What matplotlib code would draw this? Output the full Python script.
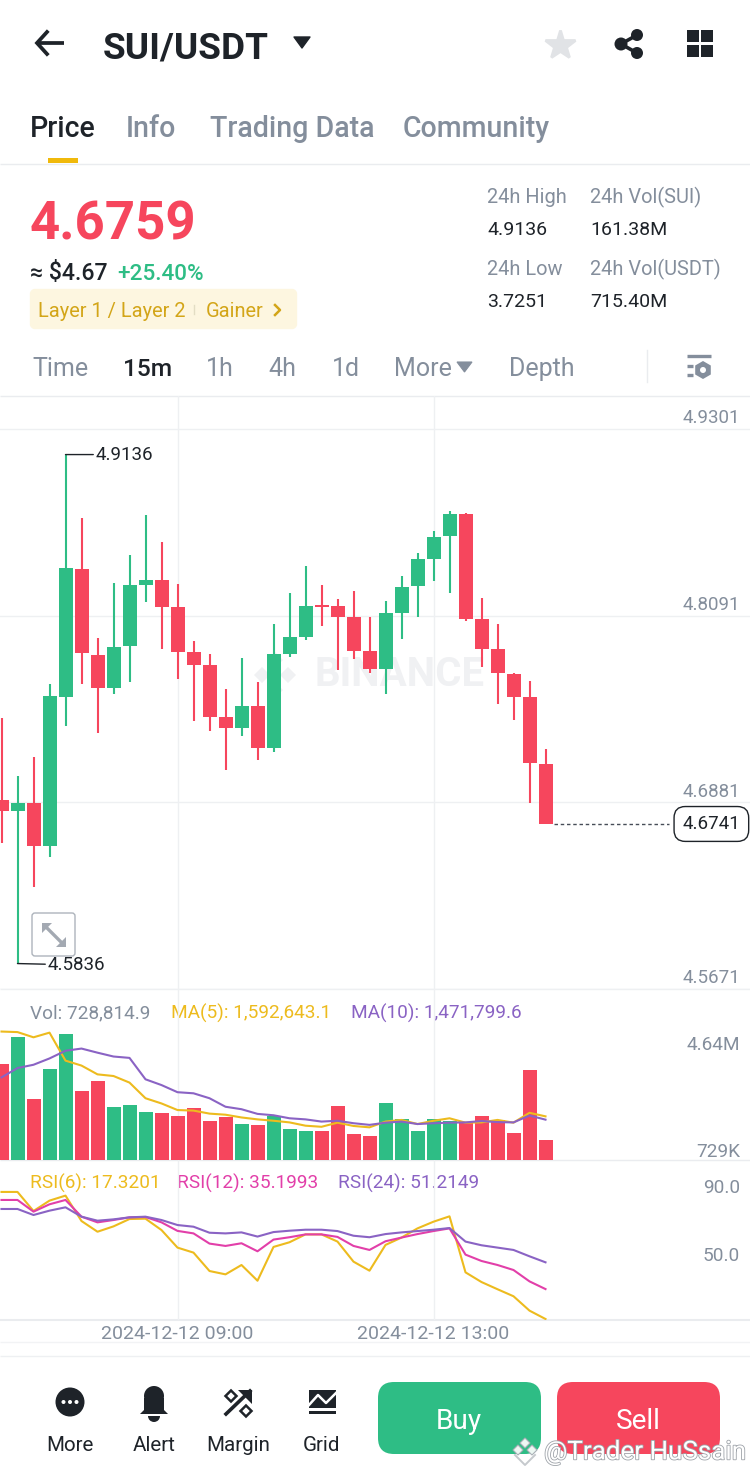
import numpy as np
import matplotlib
matplotlib.use("Agg")
import matplotlib.pyplot as plt
import matplotlib.patheffects as pe
from matplotlib.patches import Circle, FancyBboxPatch, Polygon, Rectangle, RegularPolygon, Wedge

plt.rcParams["font.family"] = ["Roboto", "DejaVu Sans"]

W, H = 750, 1474
GREEN = "#2EBD85"
RED = "#F6465D"
DARK = "#1E2329"
GRAY = "#848E9C"
GRID = "#EEF0F2"
YELLOW = "#EDBB1E"
PINK = "#E23FA9"
PURPLE = "#8A63C4"

# ── candles ──────────────────────────────────────────────────────────────────
opens = [4.6896, 4.6825, 4.6877, 4.6598, 4.7564, 4.8394, 4.7836, 4.7622, 4.7894, 4.8290, 4.8322, 4.8147,
         4.7855, 4.7771, 4.7434, 4.7363, 4.7505, 4.7233, 4.7843, 4.7953, 4.8160, 4.8154, 4.8082, 4.7862,
         4.7745, 4.8108, 4.8283, 4.8458, 4.8607, 4.8750, 4.8069, 4.7875, 4.7713, 4.7564, 4.7129]
closes = [4.6825, 4.6877, 4.6598, 4.7570, 4.8400, 4.7849, 4.7622, 4.7888, 4.8290, 4.8322, 4.8147, 4.7855,
          4.7771, 4.7434, 4.7363, 4.7505, 4.7233, 4.7843, 4.7953, 4.8154, 4.8150, 4.8082, 4.7862, 4.7745,
          4.8108, 4.8277, 4.8458, 4.8601, 4.8750, 4.8069, 4.7875, 4.7719, 4.7564, 4.7136, 4.6741]
highs = [4.7428, 4.7052, 4.7175, 4.7648, 4.9136, 4.8724, 4.7946, 4.8303, 4.8484, 4.8744, 4.8569, 4.8296,
         4.7927, 4.7843, 4.7616, 4.7817, 4.7661, 4.8037, 4.8238, 4.8413, 4.8290, 4.8199, 4.8251, 4.8082,
         4.8186, 4.8348, 4.8497, 4.8640, 4.8769, 4.8756, 4.8206, 4.8037, 4.7719, 4.7667, 4.7227]
lows = [4.6617, 4.5836, 4.6332, 4.6527, 4.7376, 4.7648, 4.7330, 4.7583, 4.7661, 4.8180, 4.7875, 4.7680,
        4.7408, 4.7343, 4.7091, 4.7311, 4.7155, 4.7207, 4.7823, 4.7933, 4.8024, 4.7739, 4.7810, 4.7719,
        4.7583, 4.7940, 4.8082, 4.8316, 4.8238, 4.8056, 4.7758, 4.7518, 4.7415, 4.6877, 4.6741]
price_ticks = [4.9301, 4.8091, 4.6881, 4.5671]
last_price = 4.6741

# ── volume (millions) ────────────────────────────────────────────────────────
volume = [3.50, 4.47, 2.23, 3.32, 4.60, 2.51, 2.88, 1.94, 2.00, 1.76, 1.72, 1.61, 1.91, 1.43, 1.57, 1.30, 1.28, 1.60,
          1.14, 1.05, 1.06, 1.97, 0.95, 0.87, 2.07, 1.48, 1.07, 1.49, 1.43, 1.34, 1.60, 1.46, 0.97, 3.28, 0.729]
vol_ma5 = [4.68, 4.66, 4.47, 4.64, 3.62, 3.44, 3.12, 3.06, 2.82, 2.25, 2.06, 1.82, 1.80, 1.69, 1.65, 1.55, 1.48, 1.43,
           1.37, 1.25, 1.21, 1.36, 1.24, 1.19, 1.40, 1.46, 1.31, 1.43, 1.52, 1.36, 1.37, 1.46, 1.36, 1.72, 1.59]
vol_ma10 = [3.01, 3.35, 3.47, 3.70, 3.98, 4.06, 3.91, 3.77, 3.72, 2.94, 2.73, 2.47, 2.43, 2.25, 1.94, 1.85, 1.68, 1.63,
            1.52, 1.48, 1.40, 1.43, 1.34, 1.28, 1.36, 1.40, 1.31, 1.34, 1.36, 1.37, 1.42, 1.38, 1.37, 1.62, 1.47]

# ── RSI ──────────────────────────────────────────────────────────────────────
rsi6 = [93.3, 93.3, 81.9, 88.1, 91.1, 75.9, 69.5, 72.7, 77.1, 77.3, 70.5, 60.0, 57.0, 46.0, 44.0, 49.6, 40.2, 60.4,
        63.2, 67.9, 67.9, 63.6, 51.6, 46.2, 61.6, 66.0, 71.5, 75.5, 78.7, 45.2, 39.4, 35.1, 30.9, 22.3, 17.3]
rsi12 = [88.5, 88.5, 81.5, 85.9, 88.5, 78.5, 75.1, 76.5, 78.1, 78.3, 75.1, 70.0, 68.5, 62.4, 61.0, 62.6, 57.8, 64.8,
         66.2, 67.9, 67.9, 66.4, 61.0, 58.6, 63.8, 66.0, 68.1, 69.9, 71.5, 55.8, 52.0, 49.6, 46.6, 39.8, 35.2]
rsi24 = [83.1, 83.1, 79.5, 82.1, 84.1, 78.5, 76.1, 76.9, 78.1, 78.5, 76.5, 73.5, 72.5, 68.9, 68.5, 69.1, 66.6, 69.3,
         70.1, 70.7, 70.7, 69.9, 67.1, 66.2, 68.1, 69.1, 69.9, 70.7, 71.7, 63.6, 61.4, 60.0, 58.6, 54.8, 51.2]

time_labels = ["2024-12-12 09:00", "2024-12-12 13:00"]
time_idx = [11, 27]

fig = plt.figure(figsize=(W / 100, H / 100), dpi=100, facecolor="white")

# page layer in pixel coordinates
ui = fig.add_axes([0, 0, 1, 1], zorder=0)
ui.set_xlim(0, W)
ui.set_ylim(H, 0)
ui.axis("off")


def label(x, y, s, px, color=GRAY, weight="normal", ha="left", **kw):
    # y is the middle of the capitals
    return ui.text(x, y + 0.36 * px, s, fontsize=px * 0.72, color=color, fontweight=weight,
                   ha=ha, va="baseline", **kw)


def hline(y, color=GRID, lw=1.0, x0=0, x1=W):
    ui.plot([x0, x1], [y, y], color=color, lw=lw, solid_capstyle="butt")


def panel(y0, y1, ymin, ymax):
    ax = fig.add_axes([0, 1 - y1 / H, 1, (y1 - y0) / H], zorder=1)
    ax.patch.set_visible(False)
    ax.set_xlim((0 - 1.5) / 16, (W - 1.5) / 16)
    ax.set_ylim(ymin, ymax)
    ax.set_xticks([])
    ax.set_yticks([])
    for s in ax.spines.values():
        s.set_visible(False)
    for i in time_idx:
        ax.axvline(i, color=GRID, lw=1, zorder=0)
    return ax


# ── header ───────────────────────────────────────────────────────────────────
ui.plot([38, 64], [43, 43], color=DARK, lw=2.7, solid_capstyle="butt")
ui.plot([47, 37, 47], [32, 43, 54], color=DARK, lw=2.7, solid_joinstyle="miter")
label(103, 45, "SUI/USDT", 37, DARK, "bold")
ui.add_patch(Polygon([[294, 37], [310, 37], [302, 48]], closed=True, fc=DARK, ec=DARK, lw=1, joinstyle="round"))
ui.plot([560], [45], marker="*", ms=22, color="#E1E3E6", mec="#E1E3E6", mew=2, mfc="#E1E3E6", ls="none")
ui.plot([637, 621, 637], [35, 44, 53], color=DARK, lw=2.6)
for cx, cy, r in [(621, 44, 6.5), (637, 35, 6), (637, 53, 6)]:
    ui.add_patch(Circle((cx, cy), r, fc=DARK, ec="none"))
for gx in (687, 701):
    for gy in (30, 45):
        ui.add_patch(Rectangle((gx, gy), 12, 12, fc=DARK, ec="none"))

label(30, 127, "Price", 28.5, DARK, "medium")
label(126, 127, "Info", 28.5, GRAY, "medium")
label(210, 127, "Trading Data", 28.5, GRAY, "medium")
label(403, 127, "Community", 28.5, GRAY, "medium")
ui.add_patch(Rectangle((48, 158), 30, 4.5, fc="#F0B90B", ec="none"))
hline(164, "#EAECEF")

# ── price block ──────────────────────────────────────────────────────────────
ui.text(30, 239, "4.6759", fontsize=38, color=RED, fontweight="bold", ha="left", va="baseline")
label(30, 272, "≈ $4.67", 23, DARK, "medium")
label(117, 272, "+25.40%", 22.5, GREEN, "medium")
ui.add_patch(FancyBboxPatch((34, 293), 259, 32, boxstyle="round,pad=0,rounding_size=1", fc="#FDF6E0", ec="#FDF6E0", lw=6,
                            joinstyle="round"))
label(38, 310, "Layer 1 / Layer 2", 20, "#D3A518")
ui.plot([194, 194], [305, 314], color="#E3DDC4", lw=1)
label(206, 310, "Gainer", 20, "#D3A518")
ui.plot([275, 280, 275], [305, 310, 315], color="#D3A518", lw=1.8)

label(487, 196, "24h High", 20, GRAY)
label(487, 228, "4.9136", 19.5, DARK)
label(590, 196, "24h Vol(SUI)", 20, GRAY)
label(590, 228, "161.38M", 19.5, DARK)
label(487, 268, "24h Low", 20, GRAY)
label(487, 300, "3.7251", 19.5, DARK)
label(590, 268, "24h Vol(USDT)", 20, GRAY)
label(590, 300, "715.40M", 19.5, DARK)

# interval row
label(32, 367, "Time", 25, GRAY)
label(123, 367, "15m", 24.5, DARK, "medium")
label(206, 367, "1h", 25, GRAY)
label(268, 367, "4h", 25, GRAY)
label(332, 367, "1d", 25, GRAY)
label(394, 367, "More", 25, GRAY)
ui.add_patch(Polygon([[457, 362], [472, 362], [464.5, 372]], closed=True, fc=GRAY, ec=GRAY, lw=0.8))
label(509, 367, "Depth", 25, GRAY)
ui.plot([647, 647], [350, 382], color="#EAECEF", lw=1)
for y0, x0, x1 in [(355.5, 687, 711), (365.5, 687, 693), (374.5, 687, 693)]:
    ui.plot([x0, x1], [y0, y0], color=GRAY, lw=2.4, solid_capstyle="butt")
ui.add_patch(RegularPolygon((703, 370), 6, radius=9, fc=GRAY, ec="none"))
ui.add_patch(Circle((703, 370), 3, fc="white", ec="none"))
hline(396, "#EAECEF")

# ── candlestick panel ────────────────────────────────────────────────────────
per_px = (price_ticks[0] - price_ticks[1]) / (615 - 429)
ax_p = panel(396, 989, price_ticks[3], price_ticks[0] + (429 - 396) * per_px)
x = np.arange(len(opens))
colors = [GREEN if c >= o else RED for o, c in zip(opens, closes)]

for t in price_ticks:
    ax_p.axhline(t, color=GRID, lw=1, zorder=0)
    ax_p.annotate(f"{t:.4f}", xy=(0.987, t), xycoords=ax_p.get_yaxis_transform(), xytext=(0, 1.2),
                  textcoords="offset points", ha="right", va="bottom", fontsize=13.5, color=GRAY)

# faint exchange mark behind the candles
ax_p.text(0.533, 0.5295, "BINANCE", transform=ax_p.transAxes, ha="center", va="center", fontsize=29,
          fontweight="bold", color="#F0F1F3", zorder=0)
for dx, dy in [(275, 660), (262, 675), (288, 675), (275, 690)]:
    ui.add_patch(Polygon([[dx, dy - 8], [dx + 8, dy], [dx, dy + 8], [dx - 8, dy]], closed=True, fc="#F0F1F3", ec="none"))

ax_p.vlines(x, lows, highs, colors=colors, lw=1.5, zorder=2)
body_bottom = np.minimum(opens, closes)
body_height = np.abs(np.array(closes) - np.array(opens))
ax_p.bar(x, body_height, bottom=body_bottom, width=0.875, color=colors, zorder=3)

ax_p.annotate("4.9136", xy=(4, highs[4]), xytext=(22, 0), textcoords="offset points", va="center", fontsize=13.5,
              color=DARK, arrowprops=dict(arrowstyle="-", color=DARK, lw=1, shrinkA=0, shrinkB=0))
ax_p.annotate("4.5836", xy=(1, lows[1]), xytext=(22, -1), textcoords="offset points", va="center", fontsize=13.5,
              color=DARK, arrowprops=dict(arrowstyle="-", color=DARK, lw=1, shrinkA=0, shrinkB=0))

# last price marker
ax_p.plot([34.5, 41.7], [last_price, last_price], color="#474D57", lw=1, ls=(0, (2.5, 2)))
ax_p.text(0.9485, last_price, f"{last_price:.4f}", transform=ax_p.get_yaxis_transform(), ha="center", va="center",
          fontsize=13.5, color=DARK,
          bbox=dict(boxstyle="round,pad=0.45,rounding_size=0.6", fc="white", ec=DARK, lw=1))

# expand button
ui.add_patch(FancyBboxPatch((32, 913), 43, 43, boxstyle="round,pad=0,rounding_size=3", fc="white", ec="#AEB4BC", lw=1))
ui.plot([46, 62], [927, 943], color="#A3A9B2", lw=2.4)
ui.add_patch(Polygon([[42, 923], [52, 923], [42, 933]], closed=True, fc="#A3A9B2", ec="none"))
ui.add_patch(Polygon([[66, 947], [56, 947], [66, 937]], closed=True, fc="#A3A9B2", ec="none"))

# ── volume panel ─────────────────────────────────────────────────────────────
ax_v = panel(989, 1160, 0, 6.23)
ax_v.bar(x, volume, width=0.875, color=colors, zorder=2)
ax_v.plot(x, vol_ma5, color=YELLOW, lw=1.5, zorder=3)
ax_v.plot(x, vol_ma10, color=PURPLE, lw=1.5, zorder=4)
hline(989)
hline(1160, "#EAECEF")
label(30, 1012, "Vol: 728,814.9", 19, GRAY)
label(171, 1012, "MA(5): 1,592,643.1", 19, YELLOW)
label(351, 1012, "MA(10): 1,471,799.6", 19, PURPLE)
label(740, 1043, "4.64M", 19, GRAY, ha="right")
label(740, 1150, "729K", 19, GRAY, ha="right")

# ── RSI panel ────────────────────────────────────────────────────────────────
ax_r = panel(1160, 1320, 16.7, 112.4)
ax_r.plot(x, rsi6, color=YELLOW, lw=1.5, zorder=2)
ax_r.plot(x, rsi12, color=PINK, lw=1.5, zorder=3)
ax_r.plot(x, rsi24, color=PURPLE, lw=1.5, zorder=4)
label(30, 1182, "RSI(6): 17.3201", 19, YELLOW)
label(177, 1182, "RSI(12): 35.1993", 19, PINK)
label(338, 1182, "RSI(24): 51.2149", 19, PURPLE)
label(740, 1186, "90.0", 19, GRAY, ha="right")
label(740, 1254, "50.0", 19, GRAY, ha="right")
hline(1320, "#EAECEF", 1.5)
hline(1342, "#F2F3F5", 1)
for i, s in zip(time_idx, time_labels):
    label(1.5 + 16 * i, 1332, s, 19.5, GRAY, ha="center")

# ── bottom bar ───────────────────────────────────────────────────────────────
hline(1356, "#EEF0F2", 1)
for cx, s in zip([70, 154, 238, 322], ["More", "Alert", "Margin", "Grid"]):
    label(cx, 1444, s, 20.5, DARK, ha="center")
# more
ui.add_patch(Circle((70, 1402), 14.5, fc=DARK, ec="none"))
for dx in (-6.5, 0, 6.5):
    ui.add_patch(Circle((70 + dx, 1402), 2, fc="white", ec="none"))
# alert
ui.add_patch(Polygon([[144, 1398], [164, 1398], [164, 1410], [168, 1414], [140, 1414], [144, 1410]], closed=True, fc=DARK, ec="none"))
ui.add_patch(Wedge((154, 1416), 6, 0, 180, fc=DARK, ec="none"))
ui.add_patch(Circle((154, 1396), 10, fc=DARK, ec="none"))
# margin
ui.plot([226, 250], [1414, 1391], color=DARK, lw=2.6)
ui.add_patch(Polygon([[238, 1390], [252, 1390], [252, 1404]], closed=True, fc=DARK, ec="none"))
for cx, cy in [(231, 1396), (246, 1411)]:
    ui.add_patch(Polygon([[cx, cy - 5.5], [cx + 5.5, cy], [cx, cy + 5.5], [cx - 5.5, cy]], closed=True, fc="white", ec=DARK, lw=1.8))
# grid
ui.add_patch(Polygon([[309, 1390], [336, 1390], [336, 1408], [309, 1408]], closed=True, fc=DARK, ec="none"))
ui.plot([309, 318, 326, 336], [1405, 1395, 1403, 1393], color="white", lw=1.8)
ui.add_patch(Rectangle((309, 1411), 27, 3, fc=DARK, ec="none"))

ui.add_patch(FancyBboxPatch((378, 1382), 163, 72, boxstyle="round,pad=0,rounding_size=16", fc=GREEN, ec="none"))
ui.add_patch(FancyBboxPatch((557, 1382), 163, 72, boxstyle="round,pad=0,rounding_size=16", fc=RED, ec="none"))
label(459, 1419, "Buy", 28, "white", ha="center")
label(638, 1419, "Sell", 28, "white", ha="center")

# repost watermark
wm = label(544, 1450, "@Trader HuSsain", 26, "white")
wm.set_path_effects([pe.withStroke(linewidth=1.2, foreground="#9EA3A9")])
for dx, dy in [(525, 1443), (518, 1450), (532, 1450)]:
    ui.add_patch(Polygon([[dx, dy - 5], [dx + 5, dy], [dx, dy + 5], [dx - 5, dy]], closed=True, fc="#EDF8F3", ec="#A9B0B6", lw=0.8))
ui.plot([515, 525, 535], [1455, 1465, 1455], color="#C5C9CD", lw=1.4)

fig.savefig("out.png", dpi=100)
